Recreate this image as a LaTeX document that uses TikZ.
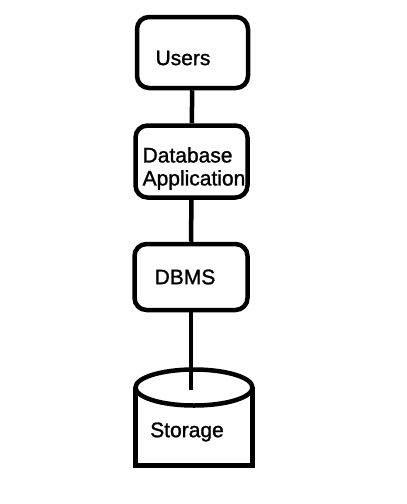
\documentclass[tikz,border=0pt]{standalone}
\usepackage{fontspec}
\setmainfont{Liberation Sans}
\newfontfamily\boxfont[FakeBold=1.2]{Liberation Sans}
\usetikzlibrary{positioning}
\tikzstyle{block} = [draw, rounded corners=12pt, line width=4.5pt]
\tikzstyle{txt} = [font=\boxfont\fontsize{21}{23}\selectfont, inner sep=0pt, align=left]
\tikzstyle{wire} = [line width=4.5pt]

\begin{document}
\begin{tikzpicture}[x=1pt, y=1pt]
\useasboundingbox (0,0) rectangle (407,-504);

% Boxes
\node [block, minimum width=111pt, minimum height=71pt] (users) at (192.5,-52.5) {};
\node [block, minimum width=112pt, minimum height=72pt] (dbapp) at (191.5,-161.5) {};
\node [block, minimum width=113pt, minimum height=66pt] (dbms) at (191,-277) {};

% Texts
\node [txt] (users text) at (183,-58) {Users};
\node [txt] (dbapp text) at (194,-168.5) {Database\\Application};
\node [txt] (dbms text) at (185,-277) {DBMS};
\node [txt] (storage text) at (187,-432) {Storage};

% Storage cylinder
\draw [wire] (194,-387.5) ellipse [x radius=58.5, y radius=18];
\draw [wire] (135.5,-387.5) -- (135.5,-465.5) -- (252.5,-465.5) -- (252.5,-387.5);
\coordinate (storage top) at (191,-390);

% Connectors
\draw [wire] (users) -- (dbapp);
\draw [wire] (dbapp) -- (dbms);
\draw [wire] (dbms) -- (storage top);

\end{tikzpicture}
\end{document}
